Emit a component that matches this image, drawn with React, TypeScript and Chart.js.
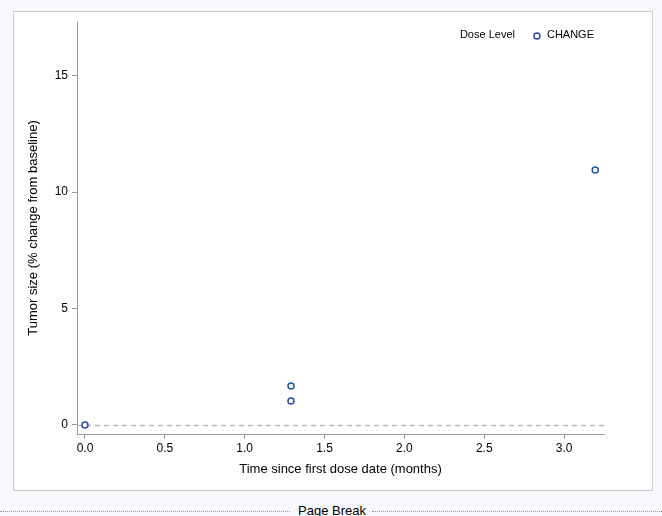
import React, { useEffect, useRef } from "react";
import { Chart, registerables } from "chart.js";

Chart.register(...registerables);

const timeMonths = [0.0, 1.29, 1.29, 3.195];
const changePct = [0.0, 1.03, 1.67, 10.94];
const xTickValues = [0, 0.5, 1.0, 1.5, 2.0, 2.5, 3.0];
const yTickValues = [0, 5, 10, 15];
const seriesLabel = "CHANGE";
const legendTitle = "Dose Level";

const FONT = "'Liberation Sans', Arial, sans-serif";
const BLUE = "#2850A8";

const refLinePlugin = {
  id: "refLine",
  beforeDatasetsDraw(chart: any) {
    const { ctx, chartArea, scales } = chart;
    const y = Math.round(scales.y.getPixelForValue(0)) + 0.5;
    ctx.save();
    ctx.strokeStyle = "#b8b8b8";
    ctx.lineWidth = 1.5;
    ctx.setLineDash([5, 4]);
    ctx.beginPath();
    ctx.moveTo(chartArea.left, y);
    ctx.lineTo(chartArea.right, y);
    ctx.stroke();
    ctx.restore();
  },
  afterDraw(chart: any) {
    const { ctx, chartArea } = chart;
    ctx.save();
    ctx.font = `11px ${FONT}`;
    ctx.fillStyle = "#000";
    ctx.textBaseline = "middle";
    const y = 23;
    const right = chartArea.right - 10;
    ctx.textAlign = "right";
    ctx.fillText(seriesLabel, right, y);
    const w = ctx.measureText(seriesLabel).width;
    const mx = right - w - 10;
    ctx.strokeStyle = BLUE;
    ctx.lineWidth = 1.5;
    ctx.beginPath();
    ctx.arc(mx, y + 1, 3, 0, Math.PI * 2);
    ctx.stroke();
    ctx.textAlign = "right";
    ctx.fillText(legendTitle, mx - 22, y);
    ctx.restore();
  },
};

export default function App() {
  const ref = useRef<HTMLCanvasElement | null>(null);
  useEffect(() => {
    if (!ref.current) return;
    const chart = new Chart(ref.current, {
      type: "scatter",
      data: {
        datasets: [
          {
            label: seriesLabel,
            data: timeMonths.map((x, i) => ({ x, y: changePct[i] })),
            pointStyle: "circle",
            pointRadius: 3,
            pointBorderWidth: 1.5,
            pointBorderColor: BLUE,
            pointBackgroundColor: "rgba(255,255,255,0)",
            borderColor: BLUE,
            backgroundColor: "rgba(255,255,255,0)",
          },
        ],
      },
      options: {
        animation: false,
        responsive: false,
        maintainAspectRatio: false,
        layout: { padding: { top: 10, right: 48, left: 0, bottom: 0 } },
        plugins: {
          legend: { display: false },
          tooltip: { enabled: false },
        },
        scales: {
          x: {
            type: "linear",
            min: -0.05,
            max: 3.25,
            afterBuildTicks: (s: any) => {
              s.ticks = xTickValues.map((v) => ({ value: v }));
            },
            afterFit: (s: any) => {
              s.height = 56;
              s.paddingLeft = 0;
              s.paddingRight = 0;
            },
            ticks: {
              color: "#000",
              font: { family: FONT, size: 12 },
              padding: 2,
              maxRotation: 0,
              callback: (v: any) => Number(v).toFixed(1),
            },
            grid: {
              drawOnChartArea: false,
              drawTicks: true,
              tickLength: 5,
              color: "#999",
            },
            border: { display: true, color: "#999" },
            title: {
              display: true,
              text: "Time since first dose date (months)",
              color: "#000",
              font: { family: FONT, size: 13 },
              padding: { top: 0, bottom: 13 },
            },
          },
          y: {
            type: "linear",
            min: -0.39,
            max: 17.3,
            afterBuildTicks: (s: any) => {
              s.ticks = yTickValues.map((v) => ({ value: v }));
            },
            afterFit: (s: any) => {
              s.width = 63;
              s.paddingTop = 0;
              s.paddingBottom = 0;
            },
            ticks: {
              color: "#000",
              font: { family: FONT, size: 12 },
              padding: 4,
              callback: (v: any) => String(v),
            },
            grid: {
              drawOnChartArea: false,
              drawTicks: true,
              tickLength: 5,
              color: "#999",
            },
            border: { display: true, color: "#999" },
            title: {
              display: true,
              text: "Tumor size (% change from baseline)",
              color: "#000",
              font: { family: FONT, size: 13 },
              padding: { top: 12, bottom: 0 },
            },
          },
        },
      },
      plugins: [refLinePlugin],
    });
    return () => chart.destroy();
  }, []);

  return (
    <div
      style={{
        position: "fixed",
        left: 0,
        top: 0,
        width: 662,
        height: 516,
        background: "#f8f9fd",
        overflow: "hidden",
      }}
    >
      <div
        style={{
          position: "absolute",
          left: 13,
          top: 11,
          width: 638,
          height: 478,
          border: "1px solid #c8c8c8",
          background: "#fff",
        }}
      >
        <canvas ref={ref} width={638} height={478} style={{ display: "block" }} />
      </div>
      <div
        style={{
          position: "absolute",
          left: 0,
          top: 503,
          width: 662,
          display: "flex",
          alignItems: "center",
          fontFamily: FONT,
          fontSize: 13,
          color: "#000",
        }}
      >
        <div style={{ flex: 1, borderTop: "1px dotted #999", marginTop: 1 }} />
        <div style={{ padding: "0 6px", lineHeight: "15px", marginLeft: 2 }}>Page Break</div>
        <div style={{ flex: 1, borderTop: "1px dotted #999", marginTop: 1 }} />
      </div>
    </div>
  );
}
